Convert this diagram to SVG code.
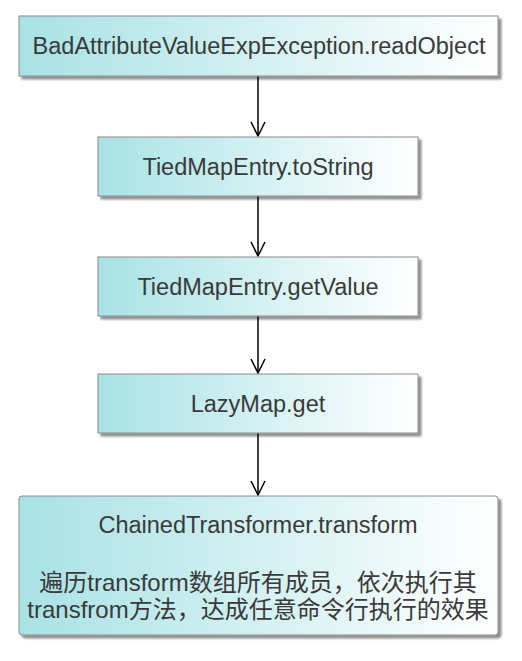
<svg xmlns="http://www.w3.org/2000/svg" width="522" height="661" viewBox="0 0 522 661">
<defs>
<linearGradient id="g" x1="0" y1="0" x2="1" y2="0">
<stop offset="0" stop-color="#a8e2e5"/>
<stop offset="1" stop-color="#ffffff"/>
</linearGradient>
<filter id="sh" x="-5%" y="-10%" width="115%" height="130%">
<feGaussianBlur in="SourceAlpha" stdDeviation="1"/>
<feOffset dx="3" dy="3" result="o"/>
<feComponentTransfer><feFuncA type="linear" slope="0.45"/></feComponentTransfer>
<feMerge><feMergeNode/><feMergeNode in="SourceGraphic"/></feMerge>
</filter>
<marker id="arr" markerWidth="16" markerHeight="16" refX="15" refY="8" orient="auto" markerUnits="userSpaceOnUse" viewBox="0 0 16 16">
<path d="M1,1 L15,8 L1,15" fill="none" stroke="#000" stroke-width="1.5"/>
</marker>
</defs>
<style>
.box{fill:url(#g);stroke:#8a8a8a;stroke-width:1;filter:url(#sh)}
.t{font-family:"Liberation Sans",Arial,"Noto Sans CJK SC",sans-serif;font-size:23.5px;fill:#3a3a3a;text-anchor:middle}
.c{font-family:"Liberation Sans",Arial,"Noto Sans CJK SC",sans-serif;font-size:24px;fill:#3a3a3a;text-anchor:middle}
.e{stroke:#000;stroke-width:1.5;fill:none}
</style>
<g id="connectors">
<line class="e" x1="258" y1="76" x2="258" y2="136" marker-end="url(#arr)"/>
<line class="e" x1="258" y1="196" x2="258" y2="256" marker-end="url(#arr)"/>
<line class="e" x1="258" y1="316" x2="258" y2="373" marker-end="url(#arr)"/>
<line class="e" x1="258" y1="433" x2="258" y2="495" marker-end="url(#arr)"/>
</g>
<g id="n1">
<rect class="box" x="19" y="16" width="479" height="60"/>
<text class="t" x="259" y="54">BadAttributeValueExpException.readObject</text>
</g>
<g id="n2">
<rect class="box" x="98" y="137" width="320" height="59"/>
<text class="t" x="258" y="175">TiedMapEntry.toString</text>
</g>
<g id="n3">
<rect class="box" x="98" y="257" width="320" height="59"/>
<text class="t" x="258" y="295">TiedMapEntry.getValue</text>
</g>
<g id="n4">
<rect class="box" x="98" y="374" width="320" height="59"/>
<text class="t" x="258" y="412">LazyMap.get</text>
</g>
<g id="n5">
<rect class="box" x="19" y="496" width="479" height="139" rx="3"/>
<text class="t" x="258" y="533">ChainedTransformer.transform</text>
<text class="c" x="258" y="591">遍历transform数组所有成员，依次执行其</text>
<text class="c" x="258" y="618">transfrom方法，达成任意命令行执行的效果</text>
</g>
</svg>
